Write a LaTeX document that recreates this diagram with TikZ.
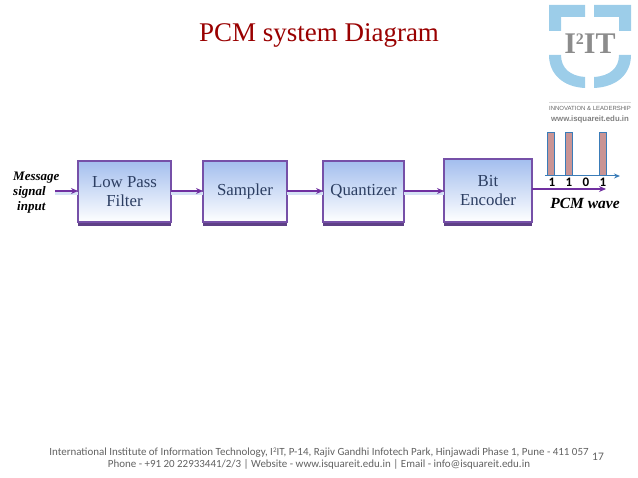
\documentclass[tikz,border=0pt]{standalone}
\usepackage{fontspec}
\setmainfont{Liberation Serif}
\newfontfamily\footfont{Carlito}
\newfontfamily\logofont{Liberation Sans}
\usepackage{xcolor}
\usetikzlibrary{arrows.meta,positioning,shadows}
\definecolor{linkviolet}{HTML}{7030A0}
\definecolor{boxedge}{HTML}{7650A8}
\definecolor{boxtext}{HTML}{2C3E62}
\definecolor{boxtop}{HTML}{A3BEEE}
\definecolor{glowblue}{HTML}{D5E2F5}
\definecolor{logoblue}{HTML}{9CCDE9}
\definecolor{logogrey}{HTML}{8C8C8C}
\definecolor{pulsefill}{HTML}{C99494}
\definecolor{pulseline}{HTML}{3A7CB8}
\tikzset{
  blockbox/.style={draw=boxedge, line width=1.8pt, top color=boxtop, bottom color=white,
    text=boxtext, align=center, font=\fontsize{16.8}{19}\selectfont, inner sep=0pt, outer sep=0pt,
    minimum height=61pt,
    general shadow={shadow xshift=0pt, shadow yshift=-4pt, fill=boxedge!80!black}},
  linkarrow/.style={draw=linkviolet, line width=1.5pt, -{Stealth[length=7pt,width=6pt]},
    preaction={draw=glowblue, line width=3pt, -, transform canvas={yshift=-2.5pt}}},
  sidetext/.style={font=\fontsize{13}{15}\selectfont\bfseries\itshape, align=left, inner sep=0pt},
  footline/.style={font=\footfont\fontsize{10.95}{12}\selectfont, text=black!62, inner sep=0pt},
  logopiece/.style={fill=logoblue, draw=none},
}
\begin{document}
\begin{tikzpicture}[x=1pt,y=-1pt]
        \useasboundingbox (0,0) rectangle (638,478);
        \node[font=\fontsize{27}{30}\selectfont, text=red!60!black, inner sep=0pt] (title) at (319,35) {PCM system Diagram};

        % logo
        \fill[logopiece] (549,5) -- (585,5) -- (585,17) -- (561,17) -- (561,31) -- (549,31) -- cycle;
        \fill[logopiece] (594,5) -- (631,5) -- (631,31) -- (619,31) -- (619,17) -- (594,17) -- cycle;
        \fill[logopiece] (549,55) -- (561,55) .. controls (561,68) and (570,76) .. (585,77) -- (585,88) .. controls (563,87) and (549,74) .. (549,55) -- cycle;
        \fill[logopiece] (631,55) -- (619,55) .. controls (619,68) and (610,76) .. (594,77) -- (594,88) .. controls (617,87) and (631,74) .. (631,55) -- cycle;
        \node[font=\fontsize{30}{30}\selectfont\bfseries, text=logogrey, inner sep=0pt] (logoname) at (590,44) {I\raisebox{9pt}{\fontsize{16}{16}\selectfont 2}IT};
        \draw[black!15, line width=0.6pt] (549,102) -- (631,102);
        \node[font=\logofont\fontsize{6}{7}\selectfont, text=black!60, inner sep=0pt] (logoline) at (590,108) {INNOVATION \& LEADERSHIP};
        \node[font=\logofont\fontsize{7.8}{8}\selectfont\bfseries, text=black!50, inner sep=0pt] (logoweb) at (590,119) {www.isquareit.edu.in};

        % blocks
        \node[blockbox, minimum width=93pt] (lpf) at (124.5,191.5) {Low Pass\\Filter};
        \node[blockbox, minimum width=84pt, right=32pt of lpf] (sampler) {Sampler};
        \node[blockbox, minimum width=81pt, right=36pt of sampler] (quant) {Quantizer};
        \node[blockbox, minimum width=88pt, minimum height=63pt, right=40pt of quant, yshift=1pt] (bit) {Bit\\Encoder};

        \node[sidetext, anchor=north west] (msg) at (13,171.5) {Message\\signal\\\hspace*{4pt}input};
        \coordinate (in) at (55,191);
        \coordinate (out) at (606,189);

        \draw[linkarrow] (in) -- (in -| lpf.west);
        \draw[linkarrow] (in -| lpf.east) -- (in -| sampler.west);
        \draw[linkarrow] (in -| sampler.east) -- (in -| quant.west);
        \draw[linkarrow] (in -| quant.east) -- (in -| bit.west);

        % pulses
        \coordinate (axisa) at (545,176);
        \coordinate (axisb) at (620,176);
        \foreach \px in {547,565,599}
            \draw[fill=pulsefill, draw=pulseline, line width=1pt] (\px,133) rectangle (\px+7,176);
        \draw[pulseline, line width=1pt, -{Stealth[length=6pt,width=5pt]}] (axisa) -- (axisb);
        \foreach \px/\bitval in {552/1,569/1,586/0,603/1}
            \node[font=\footfont\fontsize{13}{14}\selectfont\bfseries, inner sep=0pt] (bit\px) at (\px,182.5) {\bitval};
        \draw[draw=linkviolet, line width=1.5pt, -{Stealth[length=7pt,width=6pt]}] (out -| bit.east) -- (out);
        \node[sidetext, font=\fontsize{15.5}{16}\selectfont\bfseries\itshape] (pcm) at (585,203) {PCM wave};

        % footer
        \node[footline] (foota) at (319,452.5) {International Institute of Information Technology, I\raisebox{3pt}{\fontsize{7}{7}\selectfont 2}IT, P-14, Rajiv Gandhi Infotech Park, Hinjawadi Phase 1, Pune - 411 057};
        \node[footline] (footb) at (319,464.5) {Phone - +91 20 22933441/2/3 | Website - www.isquareit.edu.in | Email - info@isquareit.edu.in};
        \node[footline, font=\footfont\fontsize{11.5}{12}\selectfont] (pageno) at (598,457) {17};
    \end{tikzpicture}
\end{document}
